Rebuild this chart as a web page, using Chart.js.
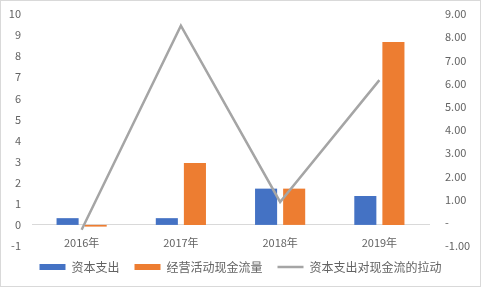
<!DOCTYPE html>
<html><head><meta charset="utf-8">
<script src="https://cdn.jsdelivr.net/npm/chart.js@4"></script>
<style>
html,body{margin:0;padding:0;background:#fff;}
#wrap{position:relative;width:481px;height:288px;}
#frame{position:absolute;left:0;top:0;width:479px;height:285px;border:1px solid #D9D9D9;pointer-events:none;}
canvas{display:block;}
</style></head><body>
<div id="wrap"><canvas id="c" width="481" height="288" style="width:481px;height:288px"></canvas><div id="frame"></div></div>
<script>
// ---- data ----
const categories = ['2016年', '2017年', '2018年', '2019年'];
const seriesNames = ['资本支出', '经营活动现金流量', '资本支出对现金流的拉动'];
const capex = [0.32, 0.32, 1.72, 1.37];
const opCashFlow = [-0.08, 2.94, 1.72, 8.67];
const pullEffect = [-0.3, 8.5, 0.9, 6.15];
const leftTickRange = [-1, 10];
const rightTickRange = [-1, 9];

const FONT = "'Noto Sans CJK SC', 'Noto Sans', sans-serif";
const GREY = '#636363';

function noVPad(s) { s.paddingTop = 0; s.paddingBottom = 0; }

new Chart(document.getElementById('c'), {
  type: 'bar',
  data: {
    labels: categories,
    datasets: [
      { label: seriesNames[0], data: capex, backgroundColor: '#4472C4', yAxisID: 'y', order: 1,
        categoryPercentage: 0.566, barPercentage: 0.786 },
      { label: seriesNames[1], data: opCashFlow, backgroundColor: '#ED7D31', yAxisID: 'y', order: 1,
        categoryPercentage: 0.566, barPercentage: 0.786 },
      { label: seriesNames[2], data: pullEffect, type: 'line', yAxisID: 'y1', order: 0,
        borderColor: '#A5A5A5', backgroundColor: '#A5A5A5', borderWidth: 2.5, pointRadius: 0,
        tension: 0, fill: false, borderJoinStyle: 'miter' }
    ]
  },
  options: {
    responsive: false,
    animation: false,
    devicePixelRatio: 1,
    layout: { padding: { left: 0, right: 0, top: 14, bottom: 5 } },
    plugins: {
      tooltip: { enabled: false },
      legend: {
        position: 'bottom',
        labels: {
          color: GREY,
          font: { family: FONT, size: 12 },
          usePointStyle: true,
          pointStyleWidth: 26,
          boxHeight: 6,
          padding: 15,
          generateLabels(chart) {
            const items = Chart.defaults.plugins.legend.labels.generateLabels(chart);
            items.forEach(it => {
              const ds = chart.data.datasets[it.datasetIndex];
              if (ds.type === 'line') {
                it.pointStyle = 'line';
                it.lineWidth = 2.5;
                it.strokeStyle = '#A5A5A5';
              } else {
                it.pointStyle = 'rect';
                it.lineWidth = 0;
              }
            });
            return items.sort((a, b) => a.datasetIndex - b.datasetIndex);
          }
        }
      }
    },
    scales: {
      x: {
        position: { y: 0 },
        offset: true,
        grid: { display: false, drawTicks: false },
        border: { display: true, color: '#D9D9D9', width: 1 },
        ticks: { color: GREY, font: { family: FONT, size: 11 }, padding: 11, maxRotation: 0 },
        afterFit(s) { s.height = 8; }
      },
      y: {
        position: 'left',
        min: leftTickRange[0], max: leftTickRange[1],
        grid: { display: false, drawTicks: false },
        border: { display: false },
        ticks: { stepSize: 1, color: GREY, font: { family: FONT, size: 11 }, padding: 11 },
        afterFit(s) { s.width = 32; noVPad(s); }
      },
      y1: {
        position: 'right',
        min: rightTickRange[0], max: rightTickRange[1],
        grid: { display: false, drawTicks: false },
        border: { display: false },
        ticks: {
          stepSize: 1, color: GREY, font: { family: FONT, size: 11 }, padding: 16,
          callback: v => (v === 0 ? '-' : v.toFixed(2))
        },
        afterFit(s) { s.width = 52; noVPad(s); }
      }
    }
  }
});
</script>
</body></html>
